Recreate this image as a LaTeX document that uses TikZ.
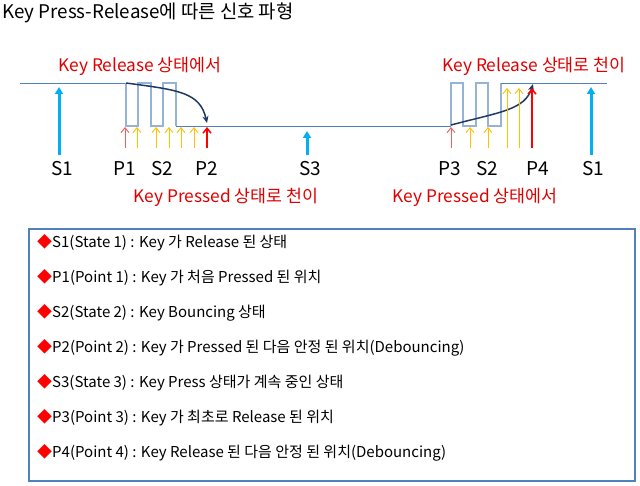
\documentclass[tikz,border=0pt]{standalone}
\usepackage{fontspec}
\setmainfont{Noto Sans CJK KR}
\usetikzlibrary{arrows.meta}
\definecolor{wavec}{HTML}{4F81BD}
\definecolor{pulsec}{HTML}{95B3D7}
\definecolor{navyc}{HTML}{1F3864}
\definecolor{cyanc}{HTML}{00B0F0}
\definecolor{amberc}{HTML}{FFC000}
\definecolor{pinkc}{HTML}{FF5A5A}
\definecolor{labelc}{HTML}{E00000}
\tikzset{
  wave/.style={draw=wavec,line width=0.8pt},
  pulse/.style={draw=pulsec,line width=1.2pt},
  bendarrow/.style={draw=navyc,line width=1.5pt,-{Stealth[length=7pt,width=6pt]}},
  statearrow/.style={draw=cyanc,line width=3pt,-{Triangle[length=7pt,width=8pt]}},
  tickarrow/.style={line width=0.9pt,-{Straight Barb[length=5pt,width=8pt]}},
  stablearrow/.style={draw=red,line width=1.5pt,-{Straight Barb[length=5pt,width=8pt]}},
  axislbl/.style={font=\fontsize{19}{22}\selectfont,inner sep=0pt},
  notelbl/.style={font=\fontsize{17.3}{20}\selectfont,text=labelc,inner sep=0pt},
  legenditem/.style={font=\fontsize{15}{18}\selectfont,anchor=west,inner sep=0pt}
}
\newcommand{\itemmark}{{\color{red}◆}}
\begin{document}
\begin{tikzpicture}[x=1pt,y=-1pt]
\useasboundingbox (0,0) rectangle (640,486);
\node[font=\fontsize{18.8}{21}\selectfont,anchor=west,inner sep=0pt] (title) at (2,13) {Key Press-Release에 따른 신호 파형};
% waveform
\draw[wave] (20,83) -- (126,83);
\draw[pulse] (126,83) -- (126,126) -- (138,126) -- (138,83) -- (151,83) -- (151,126)
  -- (163,126) -- (163,83) -- (176,83) -- (176,126);
\draw[wave] (176,126) -- (451,126);
\draw[pulse] (451,126) -- (451,83) -- (463,83) -- (463,126) -- (476,126) -- (476,83)
  -- (488,83) -- (488,126) -- (501,126) -- (501,83);
\draw[wave] (501,83) -- (607,83);
% bending arrows
\coordinate (relA) at (126,83);
\coordinate (prsB) at (207,123);
\coordinate (prsC) at (451,125);
\coordinate (relD) at (533,84);
\draw[bendarrow] (relA) .. controls (178,90) and (200,92) .. (prsB);
\draw[bendarrow] (prsC) .. controls (500,112) and (525,110) .. (relD);
% state arrows
\draw[statearrow] (59,155) -- (59,87);
\draw[statearrow] (307,155) -- (307,131);
\draw[statearrow] (591,155) -- (591,87);
% point ticks
\draw[tickarrow,draw=pinkc] (125,148) -- (125,127);
\draw[tickarrow,draw=amberc] (137,148) -- (137,127);
\draw[tickarrow,draw=amberc] (156,148) -- (156,127);
\draw[tickarrow,draw=amberc] (169,148) -- (169,127);
\draw[tickarrow,draw=amberc] (181,148) -- (181,127);
\draw[tickarrow,draw=amberc] (194,148) -- (194,127);
\draw[stablearrow] (207,148) -- (207,127);
\draw[tickarrow,draw=pinkc] (451,148) -- (451,127);
\draw[tickarrow,draw=amberc] (470,148) -- (470,127);
\draw[tickarrow,draw=amberc] (488,148) -- (488,127);
\draw[tickarrow,draw=amberc] (507,148) -- (507,88);
\draw[tickarrow,draw=amberc] (519,148) -- (519,88);
\draw[stablearrow] (532,148) -- (532,88);
% labels
\node[axislbl] (S1a) at (62,169) {S1};
\node[axislbl] (P1) at (125,169) {P1};
\node[axislbl] (S2a) at (162,169) {S2};
\node[axislbl] (P2) at (207,169) {P2};
\node[axislbl] (S3) at (310,169) {S3};
\node[axislbl] (P3) at (450,169) {P3};
\node[axislbl] (S2b) at (487,169) {S2};
\node[axislbl] (P4) at (538,169) {P4};
\node[axislbl] (S1b) at (593,169) {S1};
\node[notelbl] (fromrel) at (140,66) {Key Release 상태에서};
\node[notelbl] (toprs) at (226,197) {Key Pressed 상태로 천이};
\node[notelbl] (torel) at (534,66) {Key Release 상태로 천이};
\node[notelbl] (fromprs) at (475,197) {Key Pressed 상태에서};
% legend box
\draw[draw=wavec,line width=1.5pt] (29,229) rectangle (635,481);
\node[legenditem] (i1) at (37,243) {\itemmark S1(State 1) : Key 가 Release 된 상태};
\node[legenditem] (i2) at (37,277.5) {\itemmark P1(Point 1) : Key 가 처음 Pressed 된 위치};
\node[legenditem] (i3) at (37,312.5) {\itemmark S2(State 2) : Key Bouncing 상태};
\node[legenditem] (i4) at (37,347.5) {\itemmark P2(Point 2) : Key 가 Pressed 된 다음 안정 된 위치(Debouncing)};
\node[legenditem] (i5) at (37,382.5) {\itemmark S3(State 3) : Key Press 상태가 계속 중인 상태};
\node[legenditem] (i6) at (37,417.5) {\itemmark P3(Point 3) : Key 가 최초로 Release 된 위치};
\node[legenditem] (i7) at (37,452.5) {\itemmark P4(Point 4) : Key Release 된 다음 안정 된 위치(Debouncing)};
\end{tikzpicture}
\end{document}
